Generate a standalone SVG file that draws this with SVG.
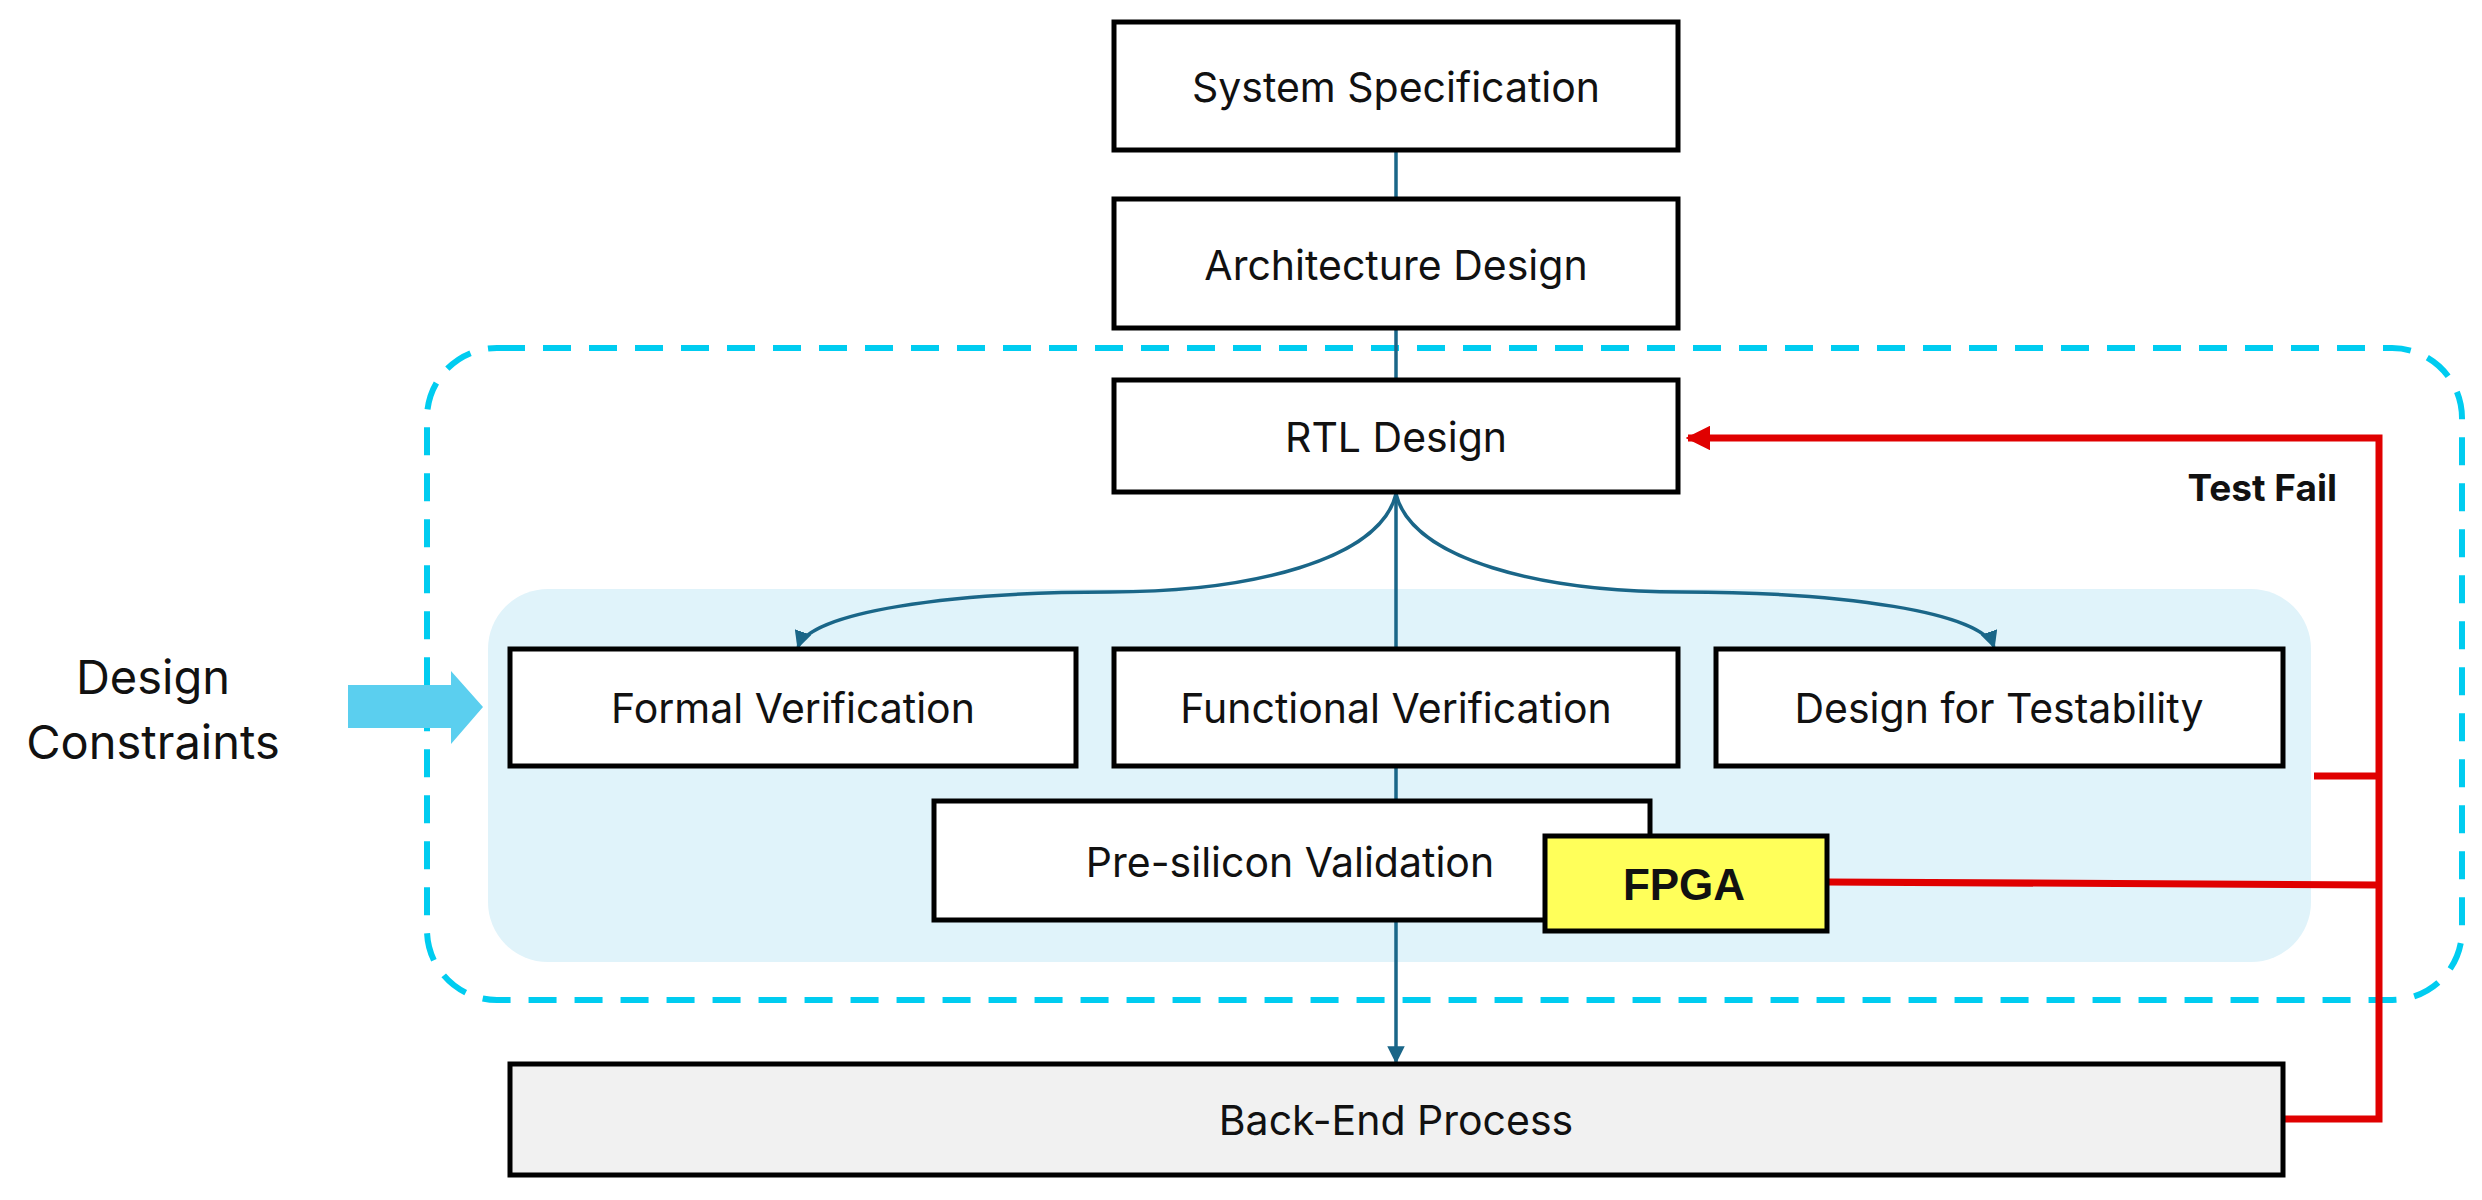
<svg xmlns="http://www.w3.org/2000/svg" width="2482" height="1200" viewBox="0 0 2482 1200">
<style>
.box{fill:#fff;stroke:#000;stroke-width:5}
.t{font-family:Inter,"Liberation Sans",sans-serif;font-size:41px;fill:#111;text-anchor:middle;dominant-baseline:central}
.c{fill:none;stroke:#1a6688;stroke-width:3.5}
.r{fill:none;stroke:#e00000;stroke-width:7}
</style>
<defs>
<marker id="a" viewBox="0 0 10 10" refX="9" refY="5" markerWidth="5" markerHeight="5" orient="auto"><path d="M0 0L10 5L0 10z" fill="#1a6688"/></marker>
<marker id="ra" viewBox="0 0 10 10" refX="9" refY="5" markerWidth="3.5" markerHeight="3.5" orient="auto"><path d="M0 0L10 5L0 10z" fill="#e00000"/></marker>
</defs>
<rect x="488" y="589" width="1823" height="373" rx="60" fill="#e0f3fa"/>
<rect x="427" y="348" width="2035" height="652" rx="70" fill="none" stroke="#00ccf0" stroke-width="6" stroke-dasharray="28,18"/>
<g id="connectors">
<line class="c" x1="1396" y1="150" x2="1396" y2="199"/>
<line class="c" x1="1396" y1="328" x2="1396" y2="380"/>
<line class="c" x1="1396" y1="492" x2="1396" y2="649"/>
<line class="c" x1="1396" y1="766" x2="1396" y2="801"/>
<line class="c" x1="1396" y1="920" x2="1396" y2="1062" marker-end="url(#a)"/>
<path class="c" d="M1396 494 C1380 560 1250 592 1110 592 C950 592 810 612 798 647" marker-end="url(#a)"/>
<path class="c" d="M1396 494 C1412 560 1542 592 1682 592 C1842 592 1982 612 1994 647" marker-end="url(#a)"/>
<polyline class="r" points="2283,1119 2379,1119 2379,438 1688,438" marker-end="url(#ra)"/>
<line class="r" x1="2314" y1="776" x2="2379" y2="776"/>
<line class="r" x1="1827" y1="882" x2="2379" y2="885"/>
<path d="M348 685H451V671L483 707L451 744V728H348z" fill="#5bcfef"/>
</g>
<g id="sys"><rect class="box" x="1114" y="22" width="564" height="128"/><text class="t" x="1396" y="87">System Specification</text></g>
<g id="arch"><rect class="box" x="1114" y="199" width="564" height="129"/><text class="t" x="1396" y="265">Architecture Design</text></g>
<g id="rtl"><rect class="box" x="1114" y="380" width="564" height="112"/><text class="t" x="1396" y="437">RTL Design</text></g>
<g id="formal"><rect class="box" x="510" y="649" width="566" height="117"/><text class="t" x="793" y="708">Formal Verification</text></g>
<g id="func"><rect class="box" x="1114" y="649" width="564" height="117"/><text class="t" x="1396" y="708">Functional Verification</text></g>
<g id="dft"><rect class="box" x="1716" y="649" width="567" height="117"/><text class="t" x="1999" y="708">Design for Testability</text></g>
<g id="presi"><rect class="box" x="934" y="801" width="716" height="119"/><text class="t" x="1290" y="862">Pre-silicon Validation</text></g>
<g id="fpga"><rect x="1545" y="836" width="282" height="95" fill="#ffff5a" stroke="#000" stroke-width="5"/><text class="t" x="1684" y="884" style="font-weight:bold;font-family:'Liberation Sans',Arial,sans-serif;font-size:44px">FPGA</text></g>
<g id="backend"><rect x="510" y="1064" width="1773" height="111" fill="#f1f1f1" stroke="#000" stroke-width="5"/><text class="t" x="1396" y="1120">Back-End Process</text></g>
<g id="labels">
<text class="t" x="2337" y="487" style="font-weight:bold;font-size:37px;text-anchor:end">Test Fail</text>
<text class="t" x="153" y="676" style="font-size:47px">Design</text>
<text class="t" x="153" y="741" style="font-size:47px">Constraints</text>
</g>
</svg>
